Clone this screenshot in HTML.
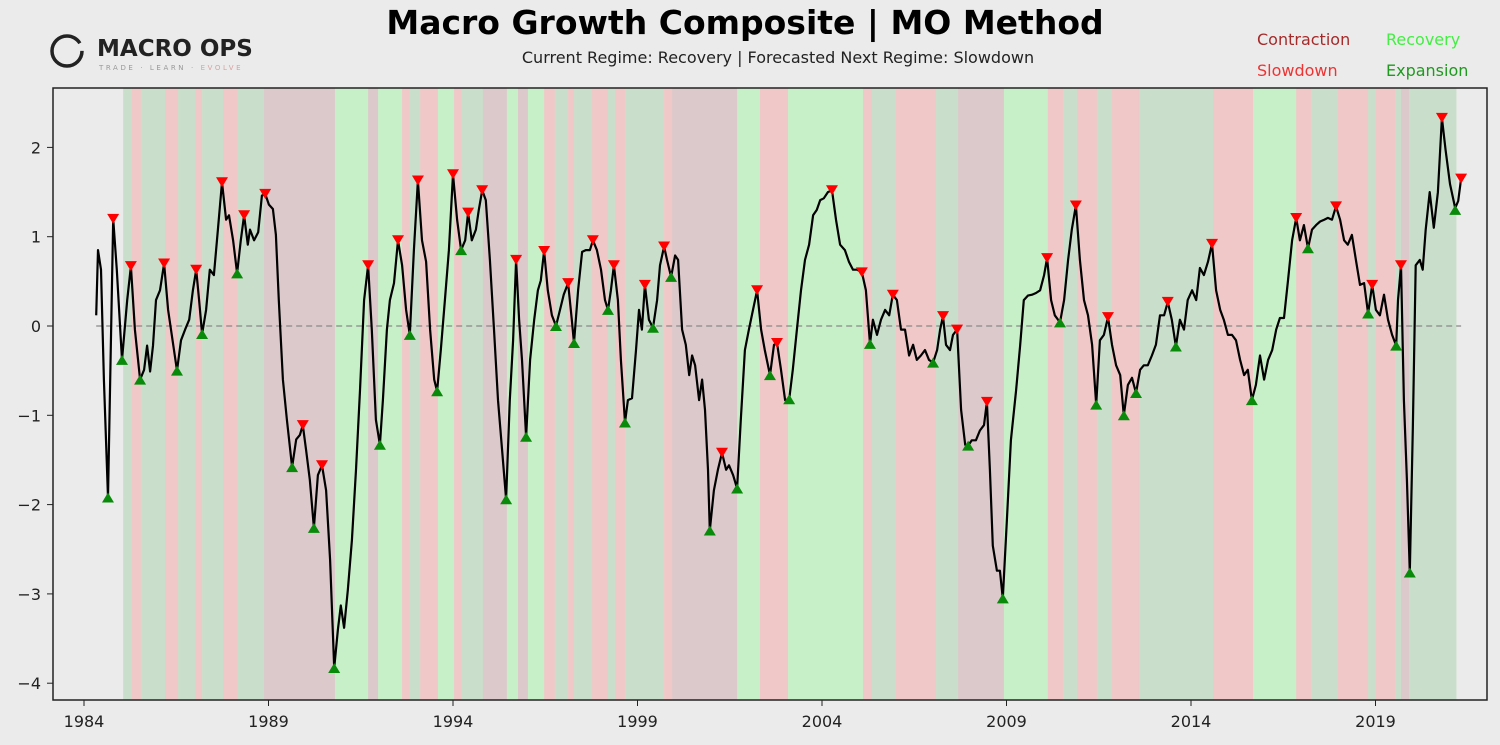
<!DOCTYPE html>
<html><head><meta charset="utf-8"><style>
html,body{margin:0;padding:0;background:#ebebeb;width:1500px;height:745px;overflow:hidden}
svg{display:block}
text{font-family:"DejaVu Sans","Liberation Sans",sans-serif}
</style></head><body>
<svg id="chart" width="1500" height="745" xmlns="http://www.w3.org/2000/svg">
<rect x="0" y="0" width="1500" height="745" fill="#ebebeb"/>
<g>
<circle cx="67" cy="51" r="15" fill="none" stroke="#222" stroke-width="3.5" stroke-dasharray="86 8"/>
<text x="97" y="56" font-size="23" font-weight="bold" fill="#222" font-family="Liberation Sans,sans-serif">MACRO OPS</text>
<text x="99" y="70" font-size="7" letter-spacing="2.6" fill="#999" font-family="Liberation Sans,sans-serif">TRADE · LEARN · <tspan fill="#d9a0a0">EVOLVE</tspan></text>
</g>
<text x="745" y="34" text-anchor="middle" font-size="33" font-weight="bold" fill="#000">Macro Growth Composite | MO Method</text>
<text x="778" y="63" text-anchor="middle" font-size="16" fill="#222">Current Regime: Recovery | Forecasted Next Regime: Slowdown</text>
<g>
<text x="1257" y="45" font-size="16" fill="#a52a2a">Contraction</text>
<text x="1386" y="45" font-size="16" fill="#44ee44">Recovery</text>
<text x="1257" y="76" font-size="16" fill="#ee3333">Slowdown</text>
<text x="1386" y="76" font-size="16" fill="#1f9a1f">Expansion</text>
</g>
<g id="bands"></g>
<g id="axes"></g>
<g id="series"></g>
</svg>
<script>
const bandStarts=[1985.06,1985.30,1985.54,1986.2,1986.55,1987.01,1987.2,1987.77,1988.17,1988.88,1990.8,1991.7,1991.97,1992.62,1992.83,1993.11,1993.59,1994.03,1994.24,1994.81,1995.46,1995.76,1996.03,1996.47,1996.76,1997.12,1997.28,1997.77,1998.2,1998.39,1998.66,1999.72,1999.94,2001.7,2002.32,2003.08,2005.11,2005.35,2006.0,2007.09,2007.69,2008.93,2010.12,2010.53,2010.91,2011.45,2011.86,2012.59,2014.6,2015.68,2016.85,2017.25,2017.98,2018.8,2019.01,2019.53,2019.69,2019.91];
const bandEnd=2021.18;
const bandTypes=["E","S","E","S","E","S","E","S","E","C","R","C","R","S","E","S","R","S","E","C","R","C","R","S","E","S","E","S","E","S","E","S","C","R","S","R","S","E","S","E","C","R","S","E","S","E","S","E","S","R","S","E","S","E","S","E","C","E"];
const dates=[1984.33,1984.38,1984.46,1984.54,1984.65,1984.79,1984.89,1985.03,1985.17,1985.27,1985.38,1985.52,1985.63,1985.71,1985.79,1985.87,1985.95,1986.06,1986.17,1986.28,1986.52,1986.63,1986.74,1986.85,1986.95,1987.04,1987.12,1987.2,1987.31,1987.41,1987.52,1987.63,1987.74,1987.85,1987.93,1988.04,1988.15,1988.25,1988.34,1988.44,1988.5,1988.61,1988.72,1988.82,1988.91,1989.01,1989.12,1989.2,1989.28,1989.39,1989.5,1989.64,1989.75,1989.85,1989.93,1990.02,1990.12,1990.23,1990.34,1990.45,1990.56,1990.67,1990.78,1990.88,1990.96,1991.05,1991.15,1991.26,1991.37,1991.48,1991.59,1991.7,1991.8,1991.91,1992.02,1992.1,1992.21,1992.29,1992.4,1992.51,1992.62,1992.73,1992.83,1992.94,1993.05,1993.16,1993.27,1993.38,1993.49,1993.57,1993.67,1993.78,1993.89,1994.0,1994.11,1994.22,1994.33,1994.41,1994.51,1994.62,1994.7,1994.79,1994.89,1995.0,1995.11,1995.22,1995.33,1995.44,1995.54,1995.63,1995.71,1995.79,1995.87,1995.98,1996.09,1996.2,1996.3,1996.38,1996.47,1996.57,1996.68,1996.79,1996.9,1997.0,1997.12,1997.22,1997.28,1997.39,1997.5,1997.6,1997.71,1997.79,1997.9,1998.01,1998.12,1998.2,1998.28,1998.36,1998.47,1998.55,1998.66,1998.74,1998.85,1998.96,1999.04,1999.12,1999.2,1999.31,1999.42,1999.53,1999.61,1999.72,1999.8,1999.91,2000.02,2000.1,2000.21,2000.31,2000.4,2000.48,2000.56,2000.67,2000.75,2000.83,2000.91,2000.96,2001.07,2001.18,2001.29,2001.4,2001.48,2001.59,2001.7,2001.8,2001.91,2002.02,2002.13,2002.24,2002.35,2002.45,2002.59,2002.7,2002.78,2002.89,2003.0,2003.11,2003.21,2003.32,2003.43,2003.54,2003.65,2003.76,2003.86,2003.95,2004.05,2004.16,2004.27,2004.38,2004.49,2004.62,2004.73,2004.84,2004.95,2005.08,2005.19,2005.3,2005.38,2005.49,2005.6,2005.71,2005.82,2005.92,2006.03,2006.14,2006.25,2006.36,2006.47,2006.57,2006.68,2006.79,2006.9,2007.01,2007.12,2007.2,2007.28,2007.36,2007.47,2007.55,2007.66,2007.77,2007.88,2007.96,2008.06,2008.17,2008.28,2008.39,2008.47,2008.55,2008.63,2008.74,2008.82,2008.9,2009.01,2009.12,2009.26,2009.37,2009.47,2009.58,2009.69,2009.8,2009.91,2010.02,2010.1,2010.21,2010.31,2010.45,2010.56,2010.67,2010.77,2010.88,2010.99,2011.1,2011.21,2011.32,2011.43,2011.53,2011.64,2011.75,2011.86,2011.97,2012.08,2012.18,2012.29,2012.4,2012.51,2012.62,2012.72,2012.83,2012.94,2013.05,2013.16,2013.27,2013.37,2013.48,2013.59,2013.7,2013.81,2013.91,2014.03,2014.14,2014.24,2014.35,2014.46,2014.57,2014.68,2014.79,2014.89,2015.0,2015.11,2015.22,2015.33,2015.44,2015.54,2015.65,2015.76,2015.87,2015.98,2016.09,2016.2,2016.31,2016.41,2016.52,2016.63,2016.74,2016.85,2016.95,2017.06,2017.17,2017.28,2017.39,2017.5,2017.61,2017.71,2017.82,2017.93,2018.04,2018.15,2018.25,2018.36,2018.47,2018.58,2018.69,2018.8,2018.91,2019.01,2019.12,2019.23,2019.34,2019.45,2019.56,2019.61,2019.69,2019.77,2019.85,2019.93,2020.01,2020.09,2020.2,2020.28,2020.36,2020.47,2020.58,2020.69,2020.8,2020.9,2021.02,2021.16,2021.24,2021.32];
const values=[0.12,0.85,0.63,-0.6,-1.92,1.2,0.63,-0.38,0.29,0.67,-0.04,-0.6,-0.49,-0.22,-0.51,-0.22,0.29,0.4,0.7,0.18,-0.5,-0.16,-0.04,0.07,0.4,0.63,0.29,-0.09,0.18,0.63,0.57,1.08,1.61,1.19,1.24,0.96,0.59,0.96,1.24,0.91,1.08,0.96,1.05,1.46,1.48,1.36,1.31,1.02,0.29,-0.6,-1.05,-1.58,-1.27,-1.22,-1.11,-1.39,-1.72,-2.26,-1.67,-1.56,-1.84,-2.62,-3.83,-3.4,-3.13,-3.38,-2.96,-2.4,-1.61,-0.72,0.29,0.68,-0.04,-1.05,-1.33,-0.83,-0.04,0.29,0.48,0.96,0.68,0.18,-0.1,0.85,1.63,0.96,0.72,-0.04,-0.6,-0.73,-0.27,0.29,0.85,1.7,1.19,0.85,0.96,1.27,0.96,1.08,1.3,1.52,1.41,0.74,-0.04,-0.83,-1.39,-1.94,-0.83,-0.16,0.74,0.07,-0.38,-1.24,-0.38,0.07,0.4,0.51,0.84,0.4,0.12,0.0,0.18,0.35,0.48,0.07,-0.19,0.4,0.83,0.85,0.85,0.96,0.85,0.63,0.29,0.18,0.4,0.68,0.29,-0.38,-1.08,-0.83,-0.81,-0.27,0.18,-0.04,0.46,0.07,-0.02,0.29,0.68,0.89,0.74,0.55,0.79,0.74,-0.04,-0.21,-0.55,-0.33,-0.44,-0.83,-0.6,-0.94,-1.61,-2.29,-1.84,-1.61,-1.42,-1.61,-1.56,-1.67,-1.82,-1.05,-0.27,-0.04,0.18,0.4,-0.04,-0.27,-0.55,-0.21,-0.19,-0.49,-0.83,-0.82,-0.49,-0.04,0.4,0.74,0.91,1.24,1.3,1.41,1.43,1.5,1.52,1.19,0.91,0.85,0.72,0.63,0.63,0.6,0.4,-0.2,0.07,-0.1,0.07,0.18,0.12,0.35,0.29,-0.04,-0.04,-0.33,-0.21,-0.38,-0.33,-0.27,-0.38,-0.41,-0.27,-0.04,0.11,-0.21,-0.27,-0.1,-0.04,-0.94,-1.33,-1.34,-1.28,-1.28,-1.17,-1.11,-0.85,-1.61,-2.46,-2.74,-2.74,-3.05,-2.17,-1.28,-0.72,-0.21,0.29,0.34,0.35,0.37,0.4,0.57,0.76,0.29,0.12,0.04,0.29,0.74,1.08,1.35,0.74,0.29,0.12,-0.21,-0.88,-0.16,-0.1,0.1,-0.21,-0.44,-0.55,-1.0,-0.66,-0.58,-0.75,-0.49,-0.44,-0.44,-0.33,-0.21,0.12,0.12,0.27,0.07,-0.23,0.07,-0.04,0.29,0.4,0.29,0.65,0.57,0.72,0.92,0.4,0.18,0.07,-0.1,-0.1,-0.16,-0.38,-0.55,-0.49,-0.83,-0.66,-0.33,-0.6,-0.38,-0.27,-0.04,0.09,0.09,0.51,0.96,1.21,0.96,1.13,0.87,1.08,1.13,1.17,1.19,1.21,1.19,1.34,1.19,0.96,0.91,1.02,0.74,0.46,0.48,0.14,0.46,0.18,0.12,0.35,0.07,-0.1,-0.22,0.29,0.68,-0.83,-1.72,-2.76,-1.16,0.68,0.74,0.63,1.08,1.5,1.1,1.5,2.33,1.97,1.59,1.32,1.4,1.65];
const peakDates=[1984.79,1985.27,1986.17,1987.04,1987.74,1988.34,1988.91,1989.93,1990.45,1991.7,1992.51,1993.05,1994.0,1994.41,1994.79,1995.71,1996.47,1997.12,1997.79,1998.36,1999.2,1999.72,2001.29,2002.24,2002.78,2004.27,2005.08,2005.92,2007.28,2007.66,2008.47,2010.1,2010.88,2011.75,2013.37,2014.57,2016.85,2017.93,2018.91,2019.69,2020.8,2021.32];
const peakValues=[1.2,0.67,0.7,0.63,1.61,1.24,1.48,-1.11,-1.56,0.68,0.96,1.63,1.7,1.27,1.52,0.74,0.84,0.48,0.96,0.68,0.46,0.89,-1.42,0.4,-0.19,1.52,0.6,0.35,0.11,-0.04,-0.85,0.76,1.35,0.1,0.27,0.92,1.21,1.34,0.46,0.68,2.33,1.65];
const troughDates=[1984.65,1985.03,1985.52,1986.52,1987.2,1988.15,1989.64,1990.23,1990.78,1992.02,1992.83,1993.57,1994.22,1995.44,1995.98,1996.79,1997.28,1998.2,1998.66,1999.42,1999.91,2000.96,2001.7,2002.59,2003.11,2005.3,2007.01,2007.96,2008.9,2010.45,2011.43,2012.18,2012.51,2013.59,2015.65,2017.17,2018.8,2019.56,2019.93,2021.16];
const troughValues=[-1.92,-0.38,-0.6,-0.5,-0.09,0.59,-1.58,-2.26,-3.83,-1.33,-0.1,-0.73,0.85,-1.94,-1.24,0,-0.19,0.18,-1.08,-0.02,0.55,-2.29,-1.82,-0.55,-0.82,-0.2,-0.41,-1.34,-3.05,0.04,-0.88,-1.0,-0.75,-0.23,-0.83,0.87,0.14,-0.22,-2.76,1.3];
const yTicks=[2,1,0,-1,-2,-3,-4];
const xTicks=[1984,1989,1994,1999,2004,2009,2014,2019];

const NS="http://www.w3.org/2000/svg";
const L=53,R=1487,T=88,B=700;
const X=d=>84+(d-1984)*36.9;
const Y=v=>326-v*89.3;
const colors={E:"#cadfcb",S:"#f0c8c8",C:"#dcc9cb",R:"#c8f0c8"};
function mk(tag,attrs,parent){const e=document.createElementNS(NS,tag);for(const k in attrs)e.setAttribute(k,attrs[k]);parent.appendChild(e);return e;}
const bands=document.getElementById('bands'),axes=document.getElementById('axes'),series=document.getElementById('series');
let bg=mk('rect',{x:L,y:T,width:R-L,height:B-T,fill:'#ebebeb'},bands);


bandStarts.forEach((s,i)=>{
  const e=i+1<bandStarts.length?bandStarts[i+1]:bandEnd;
  const r=mk('rect',{x:X(s),y:T,width:X(e)-X(s)+0.5,height:B-T,fill:colors[bandTypes[i]]},bands);
  
  
});
let z=mk('line',{x1:X(1984.33),x2:X(2021.32),y1:Y(0),y2:Y(0),stroke:'#888','stroke-dasharray':'6 4','stroke-width':1.2},axes);


let fr=mk('rect',{x:L,y:T,width:R-L,height:B-T,fill:'none',stroke:'#222','stroke-width':1.5},axes);


yTicks.forEach(v=>{
  const tk=mk('line',{x1:L-6,x2:L,y1:Y(v),y2:Y(v),stroke:'#222','stroke-width':1},axes);
  
  
  const t=mk('text',{x:L-12,y:Y(v)+6,'text-anchor':'end','font-size':16,fill:'#222'},axes);
  t.textContent=(v<0?'\u2212'+(-v):String(v));
  
  
});
xTicks.forEach(v=>{
  const tk=mk('line',{x1:X(v),x2:X(v),y1:B,y2:B+6,stroke:'#222','stroke-width':1},axes);
  
  
  const t=mk('text',{x:X(v),y:B+27,'text-anchor':'middle','font-size':16,fill:'#222'},axes);
  t.textContent=String(v);
  
  
});
const pts=dates.map((d,i)=>X(d).toFixed(1)+','+Y(values[i]).toFixed(1)).join(' ');
const line=mk('polyline',{points:pts,fill:'none',stroke:'#000','stroke-width':2.2,'stroke-linejoin':'round'},series);


peakDates.forEach((d,i)=>{
  const x=X(d),y=Y(peakValues[i]);
  const p=mk('polygon',{points:`${x-6},${y-5} ${x+6},${y-5} ${x},${y+5}`,fill:'#ff0000'},series);
  
  
});
troughDates.forEach((d,i)=>{
  const x=X(d),y=Y(troughValues[i]);
  const p=mk('polygon',{points:`${x-6},${y+5} ${x+6},${y+5} ${x},${y-5}`,fill:'#0a8a0a'},series);
  
  
});
</script>
</body></html>
